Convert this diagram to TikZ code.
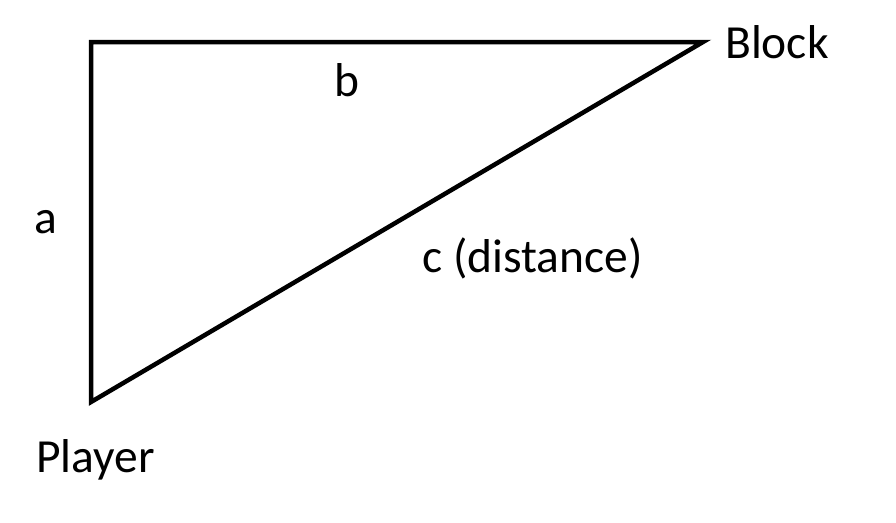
\documentclass[tikz,border=0pt]{standalone}
\usepackage{fontspec}
\setmainfont{Carlito}
\begin{document}
\begin{tikzpicture}[x=1pt,y=-1pt,
  lbl/.style={inner sep=0pt,anchor=base west,font=\fontsize{47.5}{52}\selectfont},
  edge/.style={line width=4.5pt,line join=miter,line cap=rect}]
\useasboundingbox (0,0) rectangle (896,522);
\coordinate (tl) at (91,42);
\coordinate (tr) at (703,42);
\coordinate (bl) at (91,402);
\draw[edge] (bl) -- (tl) -- (tr) -- cycle;
\node[lbl] (block) at (725,58) {Block};
\node[lbl] (b) at (334,96) {b};
\node[lbl] (a) at (34,233) {a};
\node[lbl] (c) at (422,272) {c (distance)};
\node[lbl] (player) at (36,472) {Player};
\end{tikzpicture}
\end{document}
